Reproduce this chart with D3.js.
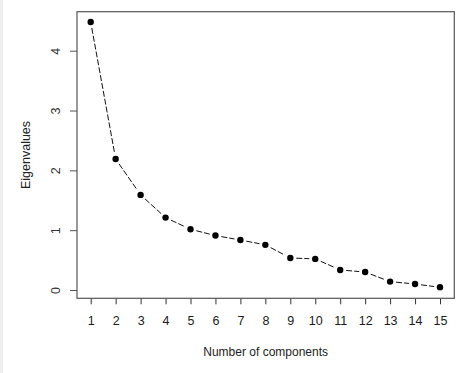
<!DOCTYPE html>
<html>
<head>
<meta charset="utf-8">
<script src="https://cdn.jsdelivr.net/npm/d3@7"></script>
<style>
  body { margin: 0; background: #fff; }
  svg { font-family: "Liberation Sans", Arial, sans-serif; }
</style>
</head>
<body>
<script>
// Scree plot data
var components = [1, 2, 3, 4, 5, 6, 7, 8, 9, 10, 11, 12, 13, 14, 15];
var eigenvalues = [4.48, 2.19, 1.59, 1.21, 1.015, 0.91, 0.835, 0.755, 0.535, 0.52, 0.335, 0.30, 0.14, 0.10, 0.045];
var yTicks = [0, 1, 2, 3, 4];

var W = 474, H = 373;
var box = {left: 77, right: 454.3, top: 11.7, bottom: 298.3};

var svg = d3.select("body").append("svg")
    .attr("width", W)
    .attr("height", H);

// faint strip on the left edge of the scan
svg.append("rect")
    .attr("x", 0).attr("y", 0)
    .attr("width", 3).attr("height", H)
    .attr("fill", "#eeeeee");

var x = d3.scaleLinear()
    .domain([1, 15])
    .range([90.7, 440]);

var y = d3.scaleLinear()
    .domain([0, 4])
    .range([290, 50.7]);

// X axis
var gx = svg.append("g")
    .attr("transform", "translate(0," + box.bottom + ")")
    .call(d3.axisBottom(x).tickValues(components).tickSize(6).tickFormat(d3.format("d")));
gx.select(".domain").remove();
gx.selectAll("line").attr("stroke", "#333");
gx.selectAll("text")
    .attr("y", 27)
    .attr("dy", 0)
    .attr("fill", "#1a1a1a")
    .style("font-size", "12.5px");

// Y axis
var gy = svg.append("g")
    .attr("transform", "translate(" + box.left + ",0)")
    .call(d3.axisLeft(y).tickValues(yTicks).tickSize(7).tickFormat(d3.format("d")));
gy.select(".domain").remove();
gy.selectAll("line").attr("stroke", "#555");
gy.selectAll("text")
    .attr("x", 0)
    .attr("dy", 0)
    .attr("transform", "translate(-17,0) rotate(-90)")
    .style("text-anchor", "middle")
    .attr("fill", "#333")
    .style("font-size", "12.5px");

// plot box
svg.append("rect")
    .attr("x", box.left)
    .attr("y", box.top)
    .attr("width", box.right - box.left)
    .attr("height", box.bottom - box.top)
    .attr("fill", "none")
    .attr("stroke", "#555")
    .attr("stroke-width", 1.2);

// lines between points, with gaps round each point (type = "b")
var pts = components.map(function(c, i) { return [x(c), y(eigenvalues[i])]; });
var gap = 6;
var segs = d3.pairs(pts).map(function(p) {
  var dx = p[1][0] - p[0][0], dy = p[1][1] - p[0][1];
  var len = Math.sqrt(dx * dx + dy * dy);
  var ux = dx / len, uy = dy / len;
  return [p[0][0] + ux * gap, p[0][1] + uy * gap, p[1][0] - ux * gap, p[1][1] - uy * gap];
});

svg.selectAll("line.seg")
  .data(segs)
  .enter()
  .append("line")
    .attr("class", "seg")
    .attr("x1", function(d) { return d[0]; })
    .attr("y1", function(d) { return d[1]; })
    .attr("x2", function(d) { return d[2]; })
    .attr("y2", function(d) { return d[3]; })
    .attr("stroke", "#111")
    .attr("stroke-width", 1)
    .attr("stroke-dasharray", "6,2");

// points
svg.selectAll("circle")
  .data(eigenvalues)
  .enter()
  .append("circle")
    .attr("cx", function(d, i) { return x(components[i]); })
    .attr("cy", function(d) { return y(d); })
    .attr("r", 3.2)
    .attr("fill", "#000");

// titles
svg.append("text")
    .attr("x", (box.left + box.right) / 2)
    .attr("y", 355.5)
    .attr("text-anchor", "middle")
    .attr("fill", "#222")
    .style("font-size", "12px")
    .text("Number of components");

svg.append("text")
    .attr("transform", "translate(29.5," + ((box.top + box.bottom) / 2) + ") rotate(-90)")
    .attr("text-anchor", "middle")
    .attr("fill", "#222")
    .style("font-size", "12.5px")
    .text("Eigenvalues");
</script>
</body>
</html>
